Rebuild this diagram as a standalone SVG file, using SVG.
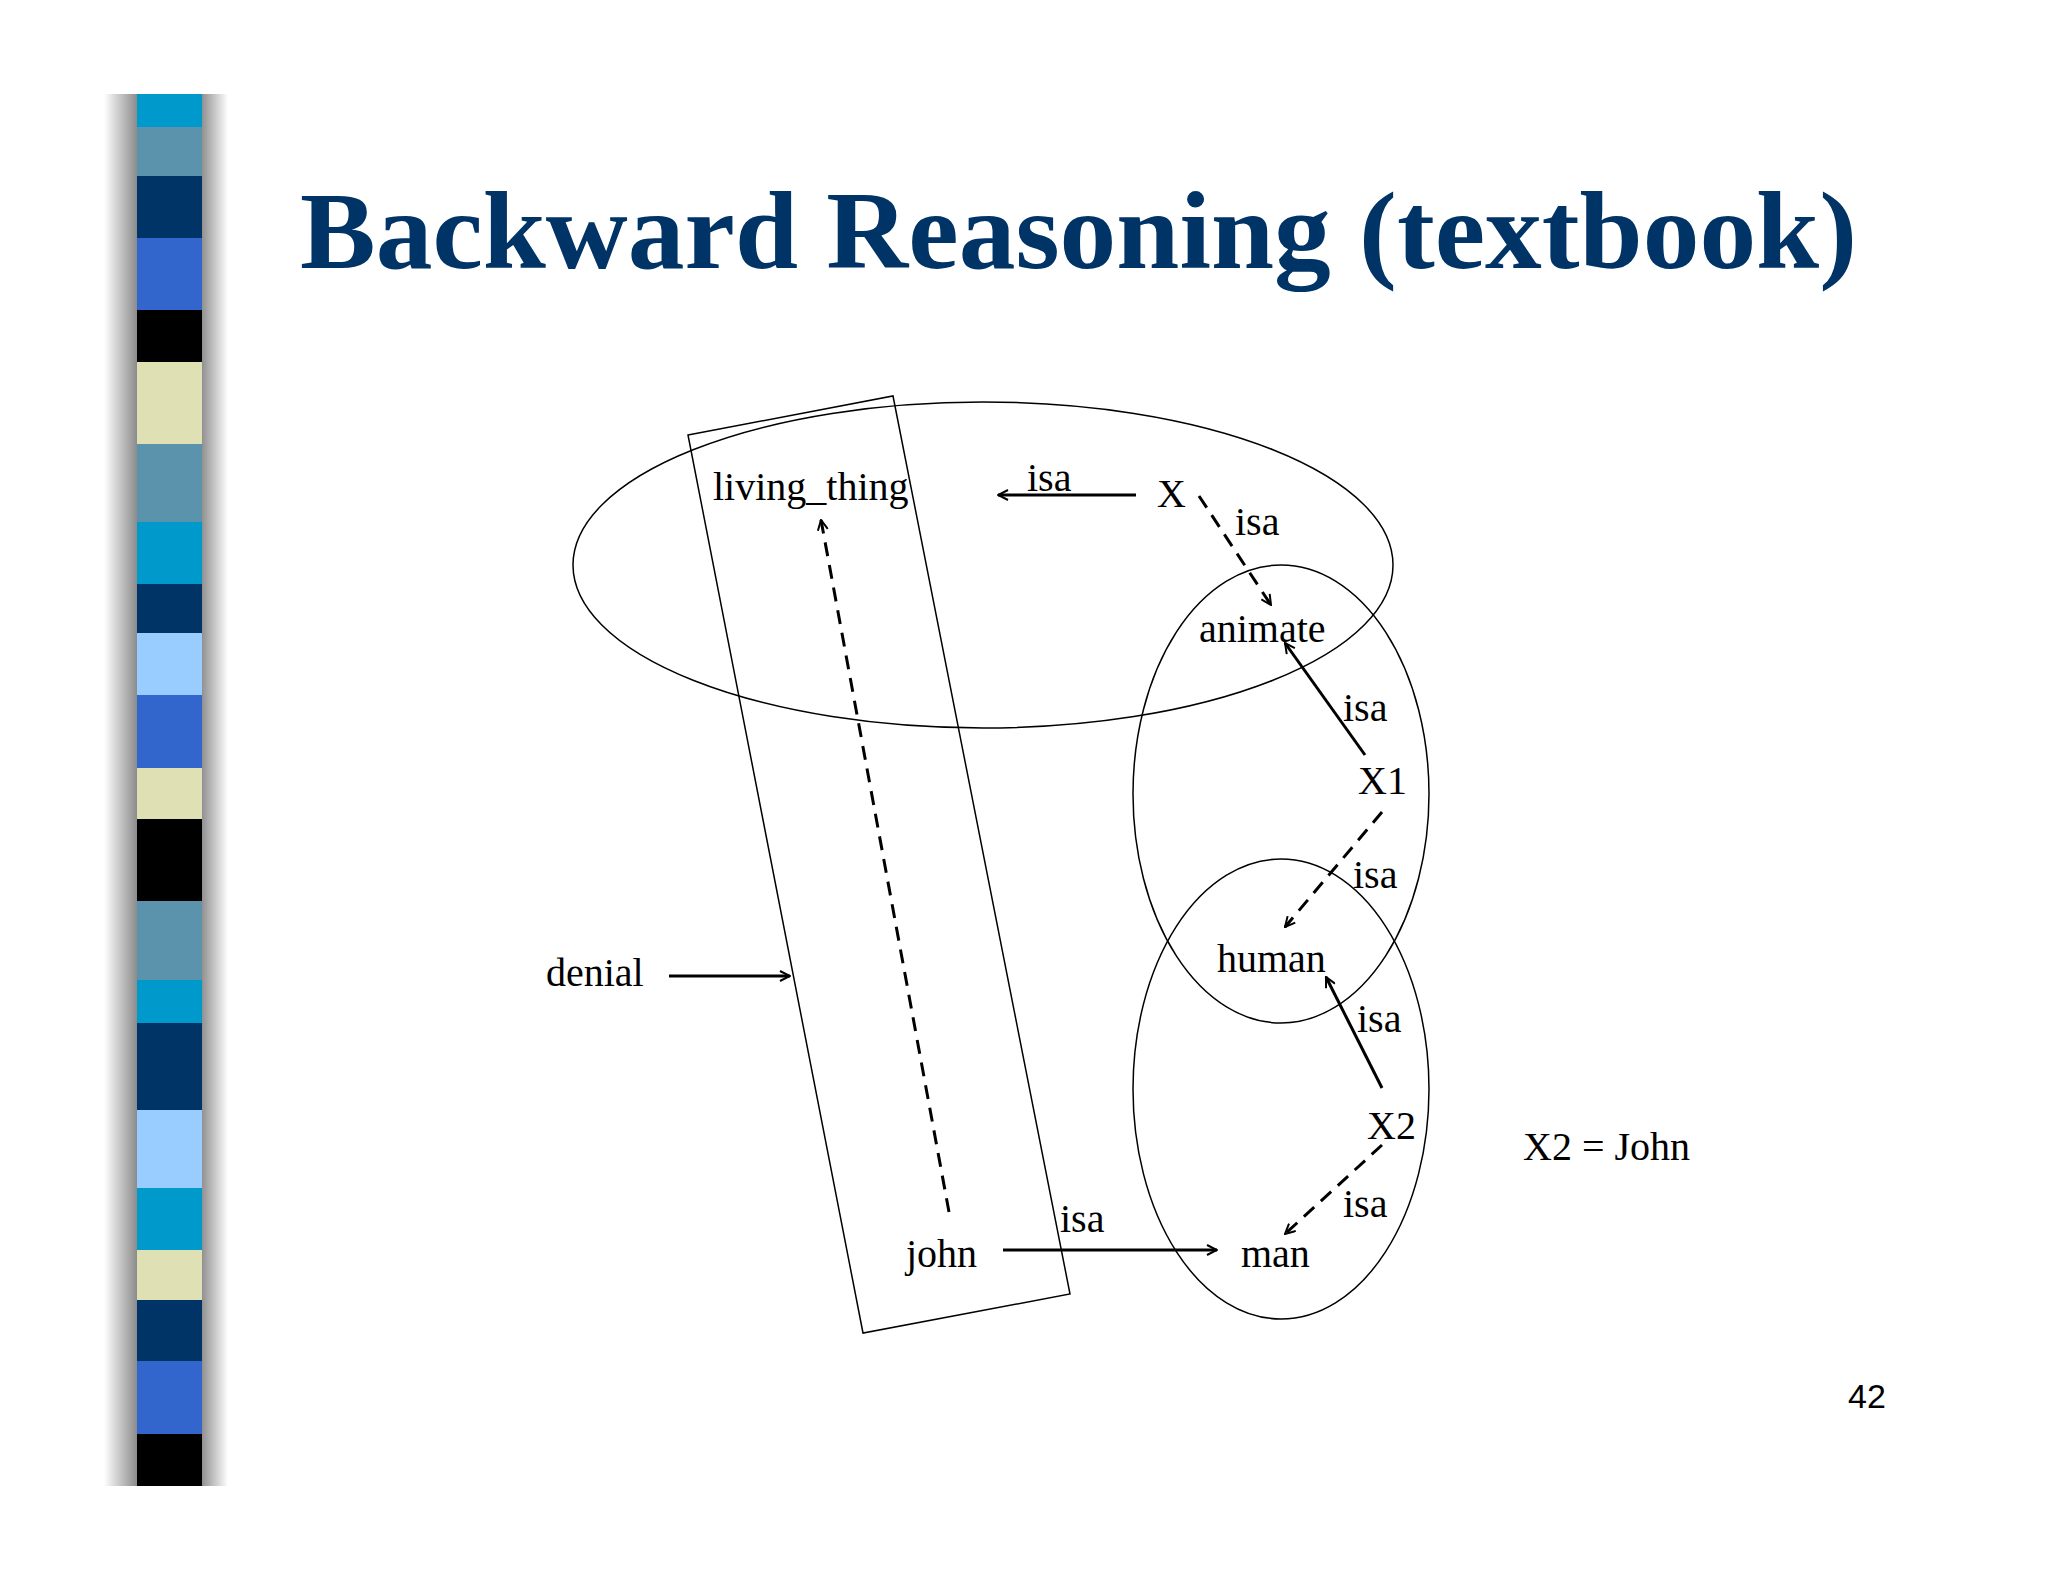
<svg xmlns="http://www.w3.org/2000/svg" width="2048" height="1582" viewBox="0 0 2048 1582">
<defs>
<marker id="oa" viewBox="0 0 12 12" refX="11" refY="6" markerWidth="12" markerHeight="12" markerUnits="userSpaceOnUse" orient="auto"><path d="M1,1 L11,6 L1,11" fill="none" stroke="#000" stroke-width="2"/></marker>
<linearGradient id="shL" x1="0" x2="1"><stop offset="0" stop-color="#fff"/><stop offset="1" stop-color="#888"/></linearGradient>
<linearGradient id="shR" x1="0" x2="1"><stop offset="0" stop-color="#888"/><stop offset="1" stop-color="#fff"/></linearGradient>
</defs>
<style>
.t{font-family:"Liberation Serif","Times New Roman",serif;font-size:40px;fill:#000}
.c{stroke:#000;stroke-width:3;fill:none}
.d{stroke-dasharray:14 9}
.sh{fill:none;stroke:#000;stroke-width:1.5}
</style>
<rect width="2048" height="1582" fill="#fff"/>
<g id="strip">
<rect x="104" y="94" width="34" height="1392" fill="url(#shL)"/>
<rect x="200" y="94" width="28" height="1392" fill="url(#shR)"/>
<rect x="137" y="94" width="65" height="33" fill="#0099cc"/>
<rect x="137" y="127" width="65" height="49" fill="#5a93ab"/>
<rect x="137" y="176" width="65" height="62" fill="#003366"/>
<rect x="137" y="238" width="65" height="72" fill="#3366cc"/>
<rect x="137" y="310" width="65" height="52" fill="#000"/>
<rect x="137" y="362" width="65" height="82" fill="#dfe0b4"/>
<rect x="137" y="444" width="65" height="78" fill="#5a93ab"/>
<rect x="137" y="522" width="65" height="62" fill="#0099cc"/>
<rect x="137" y="584" width="65" height="49" fill="#003366"/>
<rect x="137" y="633" width="65" height="62" fill="#99ccff"/>
<rect x="137" y="695" width="65" height="73" fill="#3366cc"/>
<rect x="137" y="768" width="65" height="51" fill="#dfe0b4"/>
<rect x="137" y="819" width="65" height="82" fill="#000"/>
<rect x="137" y="901" width="65" height="79" fill="#5a93ab"/>
<rect x="137" y="980" width="65" height="43" fill="#0099cc"/>
<rect x="137" y="1023" width="65" height="87" fill="#003366"/>
<rect x="137" y="1110" width="65" height="78" fill="#99ccff"/>
<rect x="137" y="1188" width="65" height="62" fill="#0099cc"/>
<rect x="137" y="1250" width="65" height="50" fill="#dfe0b4"/>
<rect x="137" y="1300" width="65" height="61" fill="#003366"/>
<rect x="137" y="1361" width="65" height="73" fill="#3366cc"/>
<rect x="137" y="1434" width="65" height="52" fill="#000"/>
</g>
<text x="300" y="268" font-family="'Liberation Serif','Times New Roman',serif" font-weight="bold" font-size="110" fill="#003366" textLength="1557" lengthAdjust="spacingAndGlyphs">Backward Reasoning (textbook)</text>
<g id="shapes">
<ellipse id="e1" cx="983" cy="565" rx="410" ry="163" class="sh"/>
<polygon id="denialbox" points="688,435 893,396 1070,1294 863,1333" class="sh"/>
<ellipse id="e2" cx="1281" cy="794" rx="148" ry="229" class="sh"/>
<ellipse id="e3" cx="1281" cy="1089" rx="148" ry="230" class="sh"/>
</g>
<g id="connectors">
<line x1="1136" y1="495" x2="998" y2="495" class="c" marker-end="url(#oa)"/>
<line x1="1199" y1="496" x2="1271" y2="605" class="c d" marker-end="url(#oa)"/>
<line x1="1365" y1="755" x2="1285" y2="643" class="c" marker-end="url(#oa)"/>
<line x1="1382" y1="812" x2="1285" y2="927" class="c d" marker-end="url(#oa)"/>
<line x1="1382" y1="1088" x2="1326" y2="977" class="c" marker-end="url(#oa)"/>
<line x1="1382" y1="1145" x2="1285" y2="1234" class="c d" marker-end="url(#oa)"/>
<line x1="1003" y1="1250" x2="1217" y2="1250" class="c" marker-end="url(#oa)"/>
<line x1="949" y1="1212" x2="821" y2="520" class="c d" marker-end="url(#oa)"/>
<line x1="669" y1="976" x2="790" y2="976" class="c" marker-end="url(#oa)"/>
</g>
<g id="n-living"><text class="t" x="713" y="500" font-size="39">living_thing</text></g>
<g id="n-X"><text class="t" x="1157" y="507" font-size="44">X</text></g>
<g id="n-animate"><text class="t" x="1199" y="642" font-size="44">animate</text></g>
<g id="n-X1"><text class="t" x="1358" y="794" font-size="44">X1</text></g>
<g id="n-human"><text class="t" x="1217" y="972" font-size="44">human</text></g>
<g id="n-X2"><text class="t" x="1367" y="1139" font-size="44">X2</text></g>
<g id="n-man"><text class="t" x="1241" y="1267" font-size="44">man</text></g>
<g id="n-john"><text class="t" x="906" y="1267" font-size="44">john</text></g>
<g id="n-denial"><text class="t" x="546" y="986" font-size="44">denial</text></g>
<g id="labels">
<text class="t" x="1027" y="491" font-size="42">isa</text>
<text class="t" x="1235" y="535" font-size="42">isa</text>
<text class="t" x="1343" y="721" font-size="42">isa</text>
<text class="t" x="1353" y="888" font-size="42">isa</text>
<text class="t" x="1357" y="1032" font-size="42">isa</text>
<text class="t" x="1343" y="1217" font-size="42">isa</text>
<text class="t" x="1060" y="1232" font-size="42">isa</text>
</g>
<text class="t" x="1523" y="1160" font-size="58">X2 = John</text>
<text x="1848" y="1408" font-family="'Liberation Sans',Arial,sans-serif" font-size="34" fill="#000">42</text>
</svg>
